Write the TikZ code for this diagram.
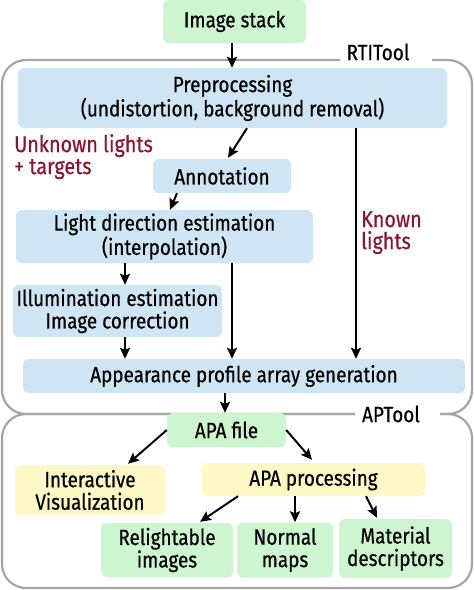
\documentclass[tikz,border=0pt]{standalone}
\usepackage{fontspec}
\setmainfont[FakeStretch=0.86,FakeBold=0.5]{Fira Sans}
\usetikzlibrary{arrows.meta}
\definecolor{bgreen}{HTML}{CCF5D0}
\definecolor{bblue}{HTML}{CFE5F4}
\definecolor{byellow}{HTML}{FDF8C6}
\definecolor{dred}{HTML}{8A1530}
\definecolor{fgray}{HTML}{A5A5A5}
\begin{document}
\begin{tikzpicture}[x=1pt,y=-1pt,
  font=\fontsize{22}{22.5}\selectfont,
  box/.style={rounded corners=6pt, inner sep=0pt, align=center},
  gbox/.style={box, fill=bgreen},
  bbox/.style={box, fill=bblue},
  ybox/.style={box, fill=byellow},
  arr/.style={-{Stealth[length=11pt,width=10pt,inset=2pt]}, line width=2pt},
  frame/.style={draw=fgray, line width=2.2pt, rounded corners=24pt},
  lbl/.style={inner sep=0pt},
  note/.style={inner sep=0pt, text=dred, align=left, anchor=north west, font=\fontsize{23}{22}\selectfont}]
\useasboundingbox (0,0) rectangle (474,590);

% frames
\draw[frame] (355,414) -- (2,414) -- (2,60) -- (340,60);
\draw[frame] (432,60) -- (472,60) -- (472,414) -- (440,414);
\draw[frame] (355,414) -- (2,414) -- (2,588) -- (472,588) -- (472,414) -- (440,414);
\node[lbl] (rti) at (378,52) {RTITool};
\node[lbl] (apt) at (391,414) {APTool};

% nodes
\node[gbox, minimum width=143pt, minimum height=43pt] (img) at (234.5,21.5) {Image stack};
\node[bbox, minimum width=429pt, minimum height=60pt] (pre) at (232.5,98) {Preprocessing\\(undistortion, background removal)};
\node[bbox, minimum width=138pt, minimum height=34pt] (ann) at (222,176) {Annotation};
\node[bbox, minimum width=297pt, minimum height=53pt] (ldir) at (164.5,236.5) {Light direction estimation\\(interpolation)};
\node[bbox, minimum width=209pt, minimum height=52pt] (ill) at (117.5,311) {Illumination estimation\\Image correction};
\node[bbox, minimum width=442pt, minimum height=34pt] (apg) at (244,376) {Appearance profile array generation};
\node[gbox, minimum width=119pt, minimum height=34pt] (apa) at (226.5,430) {APA file};
\node[ybox, minimum width=150pt, minimum height=50pt] (iv) at (90,490) {Interactive\\Visualization};
\node[ybox, minimum width=223pt, minimum height=33pt] (app) at (313.5,479.5) {APA processing};
\node[gbox, minimum width=132pt, minimum height=54pt] (rel) at (167,550) {Relightable\\images};
\node[gbox, minimum width=96pt, minimum height=55pt] (nm) at (285,550) {Normal\\maps};
\node[gbox, minimum width=113pt, minimum height=59pt] (md) at (395.5,548.5) {Material\\descriptors};

\node[note] (unk) at (14,134) {Unknown lights\\+ targets};
\node[note] (kl) at (361,211) {Known\\lights};

% arrows
\draw[arr] ([xshift=-2.5pt]img.south) -- ([xshift=-2.5pt]img.south |- pre.north);
\draw[arr] ([xshift=14.5pt]pre.south) -- ([xshift=6pt,yshift=1pt]ann.north);
\draw[arr] ([xshift=-45pt]ann.south) -- ([xshift=5.5pt]ldir.north);
\draw[arr] ([xshift=-39.5pt]ldir.south) -- ([xshift=-39.5pt]ldir.south |- ill.north);
\draw[arr] ([xshift=67.5pt]ldir.south) -- ([xshift=67.5pt]ldir.south |- apg.north);
\draw[arr] ([xshift=123.5pt]pre.south) -- ([xshift=123.5pt]pre.south |- apg.north);
\draw[arr] ([xshift=7.5pt]ill.south) -- ([xshift=7.5pt]ill.south |- apg.north);
\draw[arr] ([xshift=-19pt]apg.south) -- ([xshift=-19pt]apg.south |- apa.north);
\draw[arr] (apa.west) -- ([xshift=38pt,yshift=1pt]iv.north);
\draw[arr] (apa.east) -- ([xshift=-1.5pt,yshift=3pt]app.north);
\draw[arr] ([xshift=-75.5pt]app.south) -- ([xshift=33pt,yshift=1pt]rel.north);
\draw[arr] ([xshift=-18.5pt]app.south) -- ([xshift=-18.5pt]app.south |- nm.north);
\draw[arr] ([xshift=52.5pt]app.south) -- ([xshift=-18.5pt,yshift=1pt]md.north);
\end{tikzpicture}
\end{document}
